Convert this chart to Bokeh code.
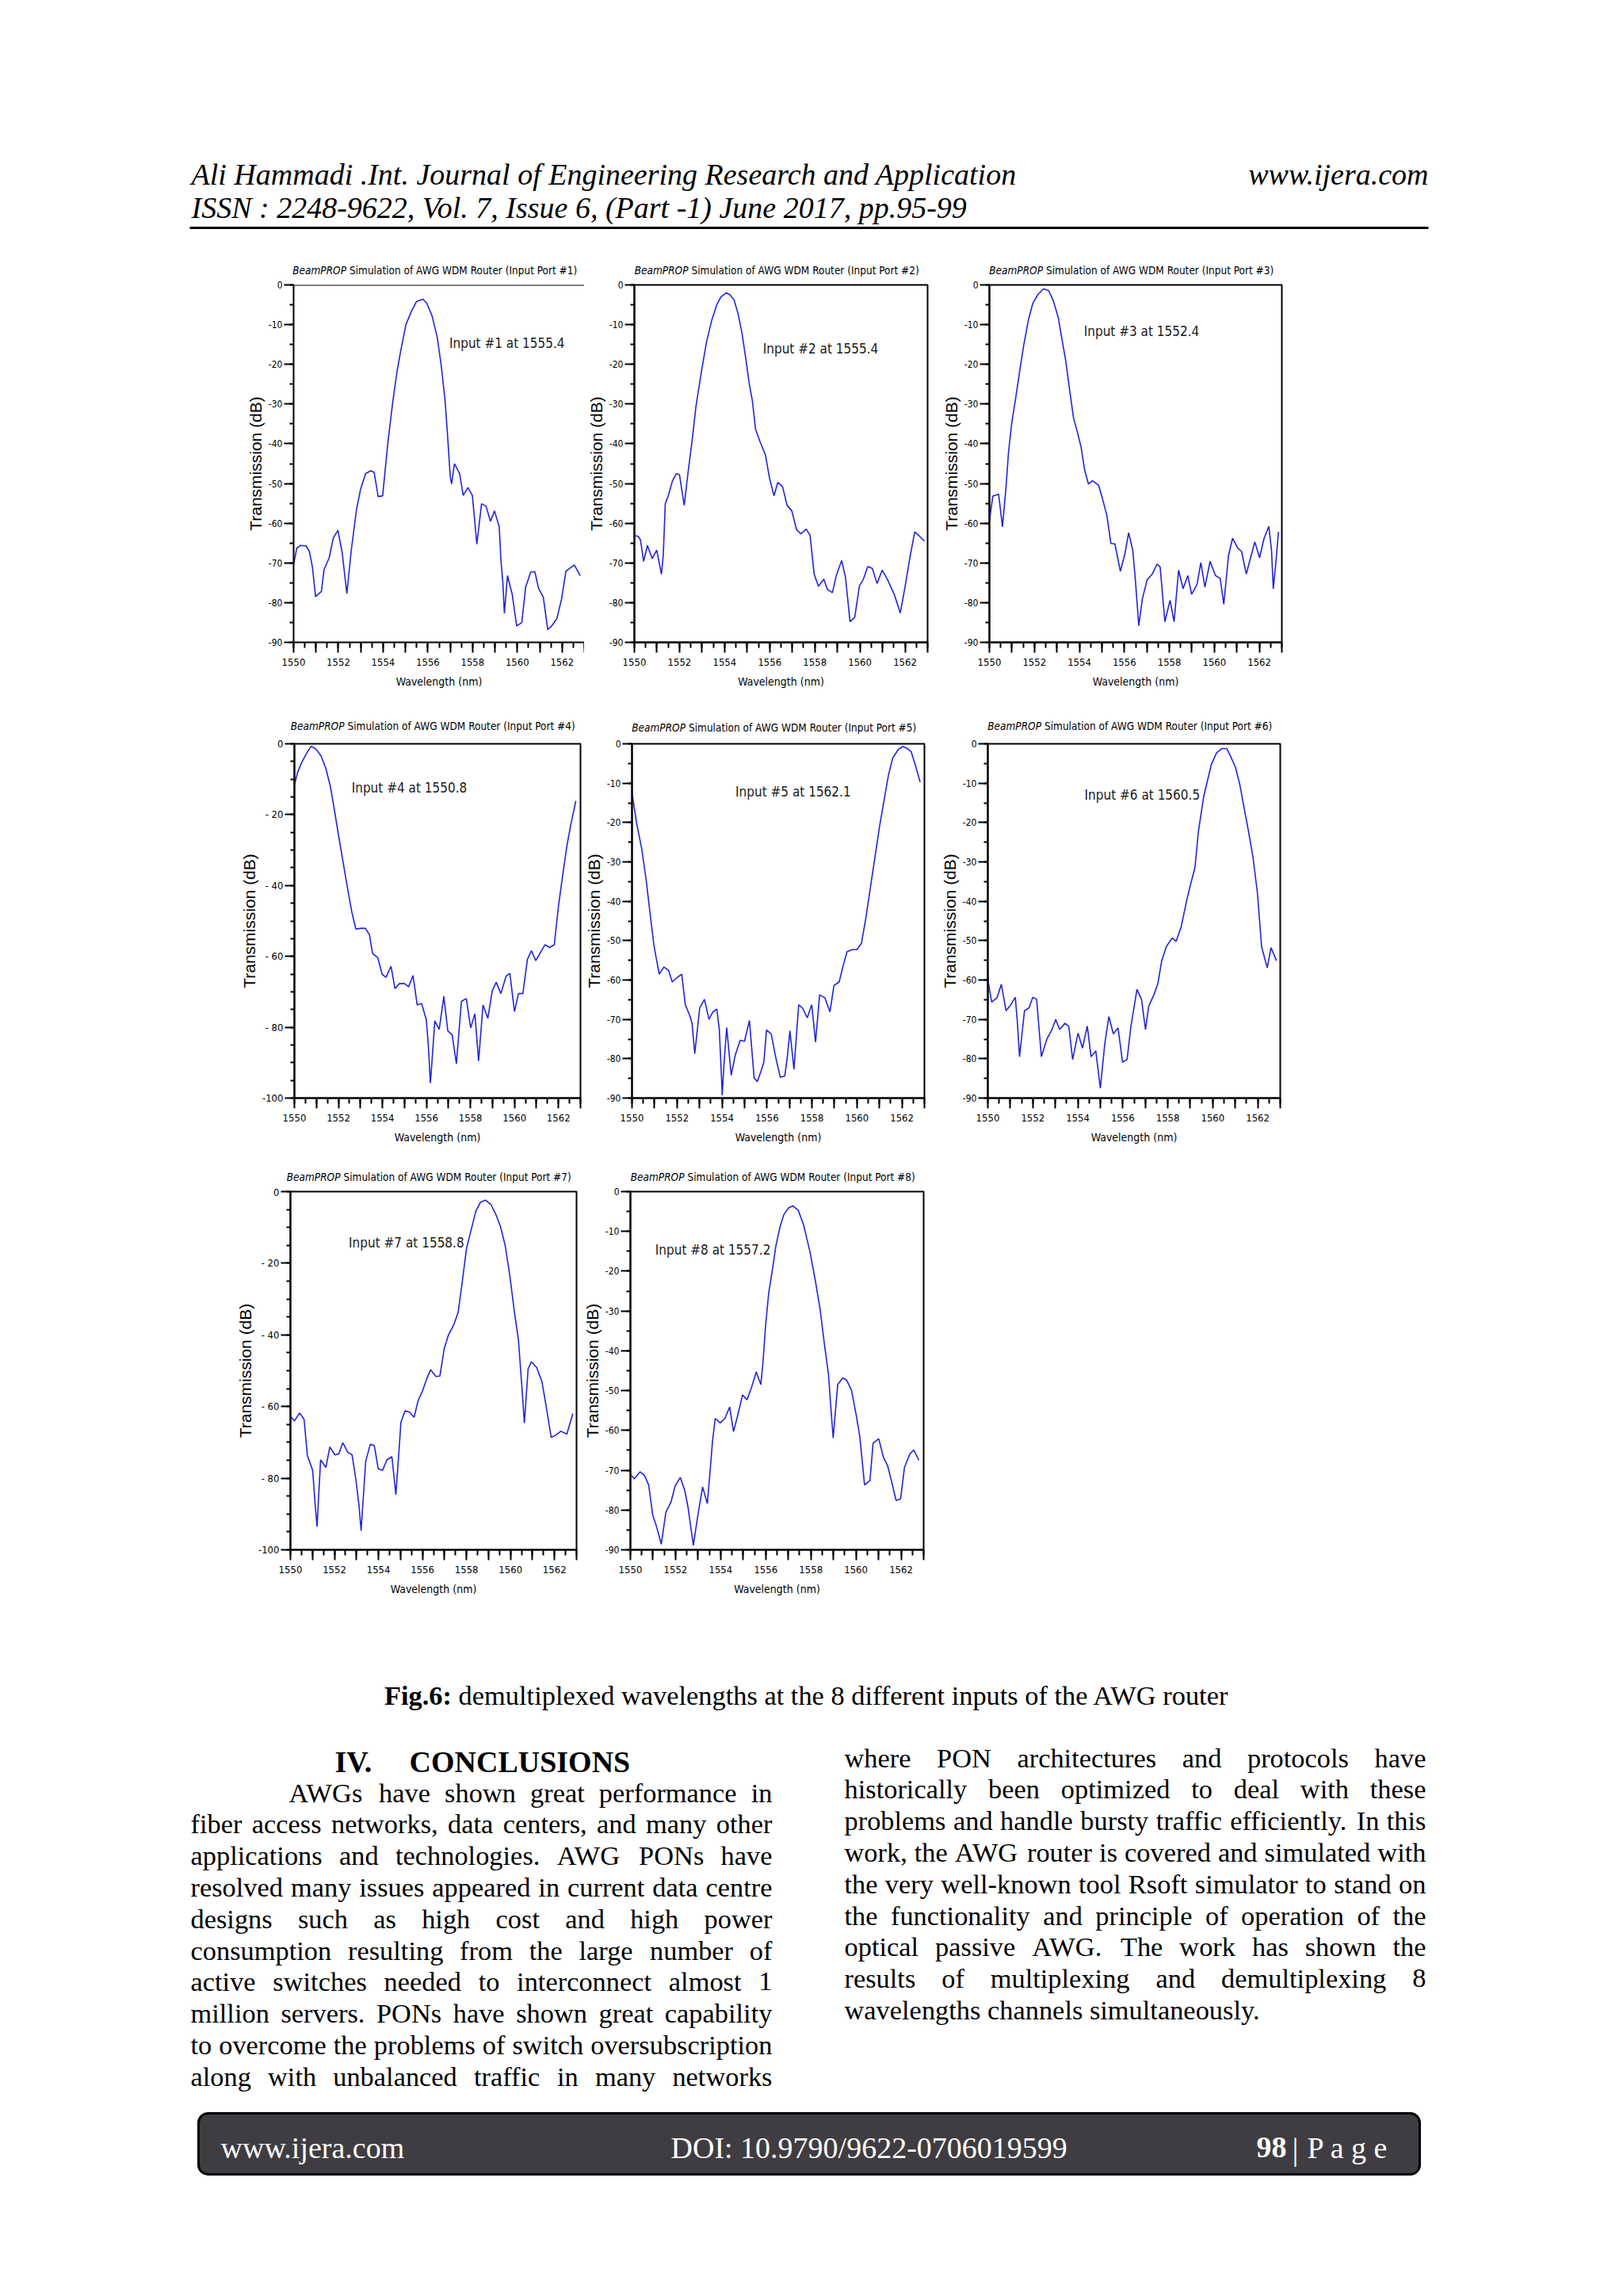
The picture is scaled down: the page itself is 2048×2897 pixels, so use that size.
from bokeh.plotting import figure
from bokeh.models import Range1d, FixedTicker, Spacer, Span
from bokeh.layouts import column, row
from bokeh.embed import file_html
from bokeh.resources import INLINE
from bokeh.core.properties import value

# ------------------------------------------------------------------ data
ports = [1, 2, 3, 4, 5, 6, 7, 8]
peak_labels = ["Input #1 at 1555.4", "Input #2 at 1555.4", "Input #3 at 1552.4",
               "Input #4 at 1550.8", "Input #5 at 1562.1", "Input #6 at 1560.5",
               "Input #7 at 1558.8", "Input #8 at 1557.2"]
y_min = [-90, -90, -90, -100, -90, -90, -100, -90]

x_ticks = [1550, 1551, 1552, 1553, 1554, 1555, 1556, 1557, 1558, 1559, 1560, 1561, 1562, 1563]
x_tick_labels = ["1550", "", "1552", "", "1554", "", "1556", "", "1558", "", "1560", "", "1562", ""]
y_ticks_90 = [-90, -80, -70, -60, -50, -40, -30, -20, -10, 0]
y_tick_labels_90 = ["-90", "-80", "-70", "-60", "-50", "-40", "-30", "-20", "-10", "0"]
y_ticks_100 = [-100, -80, -60, -40, -20, 0]
y_tick_labels_100 = ["-100", "- 80", "- 60", "- 40", "- 20", "0"]

wl1 = [1550.00,1550.14,1550.31,1550.55,1550.70,1550.84,1550.98,1551.07,1551.24,1551.36,1551.59,1551.77,1551.98,1552.17,1552.38,1552.58,1552.81,1552.99,1553.22,1553.45,1553.60,1553.78,1553.98,1554.21,1554.44,1554.62,1554.79,1555.02,1555.26,1555.49,1555.78,1555.95,1556.19,1556.42,1556.60,1556.77,1556.88,1557.00,1557.06,1557.19,1557.42,1557.58,1557.79,1557.99,1558.19,1558.40,1558.60,1558.80,1558.98,1559.19,1559.27,1559.35,1559.42,1559.56,1559.77,1559.97,1560.20,1560.37,1560.60,1560.78,1560.95,1561.16,1561.36,1561.53,1561.77,1561.98,1562.17,1562.35,1562.55,1562.81]
tr1 = [-70.4,-66.3,-65.6,-65.7,-67.0,-71.0,-78.5,-78.0,-77.2,-71.7,-68.7,-63.8,-61.8,-67.4,-77.7,-66.7,-56.6,-51.5,-47.5,-46.8,-47.2,-53.3,-53.1,-39.9,-29.1,-21.9,-16.5,-10.0,-6.7,-4.2,-3.6,-4.6,-7.8,-13.2,-20.4,-29.1,-37.8,-48.2,-50.1,-45.0,-47.5,-53.0,-51.0,-53.0,-65.3,-55.1,-55.7,-59.5,-56.9,-60.9,-69.6,-74.7,-82.7,-73.2,-77.9,-85.9,-85.0,-76.1,-72.3,-72.2,-76.4,-78.6,-86.8,-85.9,-84.0,-79.0,-72.1,-71.3,-70.5,-73.2]

wl2 = [1550.00,1550.17,1550.27,1550.41,1550.58,1550.79,1550.99,1551.20,1551.28,1551.37,1551.51,1551.69,1551.86,1552.00,1552.21,1552.38,1552.56,1552.73,1552.97,1553.20,1553.43,1553.66,1553.84,1554.07,1554.24,1554.42,1554.59,1554.77,1554.94,1555.09,1555.23,1555.37,1555.58,1555.81,1555.99,1556.19,1556.36,1556.57,1556.77,1556.98,1557.19,1557.38,1557.62,1557.79,1557.97,1558.16,1558.40,1558.55,1558.78,1558.95,1559.19,1559.36,1559.56,1559.77,1559.98,1560.14,1560.35,1560.55,1560.76,1560.99,1561.23,1561.52,1561.79,1562.01,1562.22,1562.43,1562.63,1562.86]
tr2 = [-63.1,-63.3,-64.2,-69.6,-65.6,-68.9,-66.8,-72.8,-68.1,-55.1,-53.0,-49.3,-47.5,-47.8,-55.5,-47.2,-39.2,-30.6,-21.9,-14.3,-8.9,-4.9,-3.0,-2.0,-2.5,-3.8,-7.1,-12.1,-18.6,-24.8,-29.1,-36.3,-39.6,-42.8,-48.6,-53.1,-49.7,-50.8,-55.5,-56.9,-61.6,-62.7,-61.5,-63.1,-72.8,-75.9,-74.1,-76.6,-77.5,-73.2,-69.4,-73.6,-84.8,-83.7,-75.7,-74.3,-70.9,-71.4,-75.2,-71.8,-74.3,-77.9,-82.6,-75.7,-68.5,-62.2,-63.2,-64.5]

wl3 = [1550.00,1550.15,1550.41,1550.58,1550.74,1550.85,1550.99,1551.17,1551.37,1551.52,1551.73,1551.93,1552.16,1552.40,1552.63,1552.83,1553.06,1553.21,1553.39,1553.56,1553.74,1553.91,1554.07,1554.23,1554.40,1554.58,1554.85,1555.02,1555.22,1555.40,1555.58,1555.82,1556.02,1556.19,1556.37,1556.48,1556.64,1556.80,1557.01,1557.24,1557.45,1557.59,1557.80,1558.03,1558.21,1558.41,1558.61,1558.82,1558.99,1559.23,1559.40,1559.58,1559.81,1560.05,1560.26,1560.42,1560.63,1560.81,1561.04,1561.21,1561.42,1561.60,1561.80,1562.01,1562.21,1562.42,1562.54,1562.62,1562.74,1562.85]
tr3 = [-59.5,-53.2,-52.7,-60.9,-50.8,-42.1,-34.9,-28.4,-20.8,-15.4,-8.9,-4.6,-2.4,-1.0,-1.4,-3.8,-8.2,-13.2,-19.0,-26.2,-33.5,-37.1,-40.7,-46.5,-50.1,-49.3,-50.4,-53.7,-58.0,-65.1,-65.2,-72.1,-67.8,-62.4,-66.7,-73.6,-85.8,-79.0,-74.3,-72.8,-70.3,-71.0,-84.8,-79.4,-84.8,-71.8,-76.5,-73.2,-77.9,-75.4,-69.9,-76.1,-69.6,-73.2,-73.9,-80.4,-68.1,-63.8,-66.3,-67.1,-72.8,-68.9,-64.7,-68.7,-63.8,-60.8,-66.7,-76.5,-69.6,-62.2]

wl4 = [1550.00,1550.14,1550.32,1550.56,1550.76,1550.97,1551.21,1551.43,1551.63,1551.81,1552.02,1552.22,1552.42,1552.61,1552.79,1552.99,1553.23,1553.41,1553.55,1553.79,1553.99,1554.16,1554.39,1554.57,1554.77,1555.01,1555.19,1555.39,1555.58,1555.78,1555.99,1556.08,1556.18,1556.29,1556.38,1556.58,1556.79,1556.97,1557.17,1557.36,1557.59,1557.81,1558.01,1558.20,1558.37,1558.57,1558.79,1558.99,1559.17,1559.38,1559.62,1559.79,1560.00,1560.18,1560.38,1560.59,1560.77,1560.97,1561.19,1561.39,1561.60,1561.81,1562.00,1562.20,1562.38,1562.56,1562.79]
tr4 = [-11.7,-8.2,-5.4,-2.6,-0.7,-1.4,-3.4,-7.0,-11.9,-18.4,-26.4,-33.7,-41.0,-47.5,-52.3,-52.1,-52.1,-53.9,-59.2,-60.4,-65.1,-65.9,-62.8,-69.1,-67.7,-67.7,-68.6,-65.4,-73.7,-73.3,-77.8,-84.6,-95.8,-86.3,-78.2,-80.6,-71.3,-81.0,-82.2,-90.3,-72.7,-71.9,-80.2,-76.2,-89.5,-73.7,-77.5,-69.7,-67.3,-70.5,-65.6,-64.8,-75.6,-70.5,-70.5,-60.8,-58.4,-61.2,-58.8,-56.7,-57.5,-56.7,-45.8,-36.7,-28.9,-22.8,-16.1]

wl5 = [1550.00,1550.20,1550.43,1550.63,1550.81,1550.98,1551.21,1551.42,1551.63,1551.79,1552.00,1552.21,1552.37,1552.58,1552.67,1552.79,1553.01,1553.22,1553.42,1553.60,1553.77,1553.88,1553.98,1554.01,1554.09,1554.21,1554.41,1554.59,1554.81,1555.00,1555.22,1555.43,1555.57,1555.74,1555.86,1555.98,1556.19,1556.38,1556.59,1556.79,1556.91,1557.02,1557.20,1557.41,1557.58,1557.79,1557.99,1558.16,1558.34,1558.57,1558.80,1558.98,1559.21,1559.38,1559.56,1559.79,1560.00,1560.20,1560.40,1560.60,1560.80,1561.01,1561.21,1561.40,1561.59,1561.83,1562.03,1562.21,1562.41,1562.60,1562.81]
tr5 = [-12.4,-20.0,-26.6,-34.6,-43.4,-51.4,-58.5,-56.7,-57.6,-60.5,-59.4,-58.5,-66.3,-69.2,-71.1,-78.7,-67.1,-64.9,-70.0,-68.1,-67.4,-72.5,-84.9,-89.3,-81.3,-72.1,-84.2,-79.1,-75.3,-75.6,-70.3,-84.9,-85.8,-83.1,-80.9,-72.7,-73.7,-79.4,-84.7,-84.4,-79.3,-72.9,-82.7,-66.3,-67.1,-69.6,-66.3,-75.8,-63.8,-64.5,-68.1,-61.4,-60.5,-56.5,-52.8,-52.3,-52.3,-50.7,-44.1,-36.4,-28.8,-20.8,-14.2,-8.0,-3.6,-1.5,-0.7,-1.1,-2.0,-5.5,-9.7]

wl6 = [1550.00,1550.17,1550.41,1550.60,1550.81,1551.01,1551.22,1551.31,1551.41,1551.63,1551.83,1552.00,1552.17,1552.38,1552.62,1552.85,1553.02,1553.19,1553.43,1553.60,1553.77,1554.01,1554.21,1554.42,1554.59,1554.80,1555.00,1555.20,1555.38,1555.58,1555.79,1555.99,1556.19,1556.36,1556.63,1556.83,1557.01,1557.15,1557.38,1557.56,1557.73,1557.94,1558.20,1558.37,1558.60,1558.84,1559.01,1559.21,1559.36,1559.59,1559.77,1559.94,1560.17,1560.41,1560.62,1560.81,1561.01,1561.20,1561.40,1561.59,1561.78,1561.98,1562.17,1562.42,1562.59,1562.83]
tr6 = [-59.8,-65.6,-64.5,-61.1,-67.8,-66.4,-64.4,-70.4,-79.5,-67.8,-67.1,-64.4,-64.9,-79.5,-75.1,-72.6,-70.0,-72.6,-71.0,-71.8,-80.2,-73.5,-77.3,-71.7,-79.5,-78.0,-87.5,-76.2,-69.3,-73.7,-72.2,-80.9,-80.2,-71.8,-62.4,-64.9,-72.6,-66.7,-63.8,-60.9,-55.1,-51.5,-49.3,-50.2,-46.4,-39.8,-35.8,-31.4,-22.3,-13.6,-9.2,-5.2,-2.3,-1.2,-1.2,-3.4,-6.0,-10.3,-16.5,-22.3,-28.5,-37.6,-51.5,-56.9,-51.8,-55.1]

wl7 = [1550.00,1550.18,1550.42,1550.62,1550.77,1551.01,1551.13,1551.21,1551.37,1551.61,1551.79,1552.02,1552.20,1552.38,1552.60,1552.80,1552.98,1553.12,1553.21,1553.42,1553.63,1553.81,1553.99,1554.19,1554.38,1554.61,1554.79,1554.94,1555.02,1555.21,1555.42,1555.62,1555.80,1556.01,1556.19,1556.37,1556.61,1556.79,1556.99,1557.17,1557.44,1557.62,1557.80,1558.00,1558.21,1558.43,1558.63,1558.87,1559.11,1559.35,1559.55,1559.76,1559.98,1560.18,1560.36,1560.50,1560.63,1560.80,1560.95,1561.19,1561.43,1561.61,1561.85,1562.05,1562.29,1562.56,1562.83]
tr7 = [-62.7,-64.0,-61.8,-63.6,-73.7,-77.8,-87.9,-93.5,-74.9,-77.0,-71.3,-73.5,-73.2,-70.1,-72.7,-73.5,-80.6,-87.9,-94.7,-75.3,-70.5,-70.9,-77.4,-77.8,-74.9,-74.0,-84.6,-71.7,-64.4,-61.2,-61.6,-63.0,-58.4,-55.5,-52.3,-49.7,-51.6,-51.5,-43.8,-40.2,-36.9,-33.7,-25.6,-15.9,-10.7,-5.4,-3.0,-2.4,-3.6,-6.6,-9.9,-15.1,-24.0,-33.7,-41.4,-53.1,-64.6,-49.5,-47.5,-49.1,-53.1,-59.6,-68.6,-68.0,-66.9,-67.7,-62.0]

wl8 = [1550.00,1550.17,1550.43,1550.62,1550.81,1550.99,1551.16,1551.37,1551.57,1551.80,1551.98,1552.21,1552.41,1552.56,1552.79,1552.99,1553.20,1553.41,1553.52,1553.64,1553.76,1553.98,1554.19,1554.40,1554.57,1554.74,1554.97,1555.17,1555.37,1555.58,1555.78,1555.87,1555.99,1556.13,1556.31,1556.45,1556.63,1556.80,1557.01,1557.21,1557.44,1557.67,1557.96,1558.20,1558.41,1558.60,1558.78,1558.90,1558.99,1559.19,1559.42,1559.59,1559.80,1560.00,1560.17,1560.38,1560.62,1560.76,1561.01,1561.22,1561.40,1561.57,1561.78,1561.98,1562.15,1562.38,1562.56,1562.79]
tr8 = [-71.0,-72.2,-70.4,-71.3,-73.7,-81.3,-84.2,-88.6,-80.6,-78.0,-74.0,-71.8,-75.1,-79.5,-88.9,-81.3,-74.2,-78.4,-71.1,-62.7,-57.0,-58.1,-57.0,-54.1,-60.3,-56.6,-51.1,-52.3,-49.2,-45.3,-48.5,-43.4,-33.9,-25.5,-19.1,-13.6,-8.9,-5.8,-4.1,-3.6,-4.7,-8.2,-15.1,-22.4,-29.6,-38.3,-45.8,-55.3,-61.9,-48.5,-46.8,-47.4,-49.9,-55.8,-61.6,-73.7,-72.6,-63.2,-62.1,-66.8,-68.8,-72.6,-77.6,-77.2,-69.3,-66.0,-64.9,-67.5]

wavelengths = [wl1, wl2, wl3, wl4, wl5, wl6, wl7, wl8]
transmissions = [tr1, tr2, tr3, tr4, tr5, tr6, tr7, tr8]

# page texts
header_line1 = "Ali Hammadi .Int. Journal of Engineering Research and Application"
header_line2 = "ISSN : 2248-9622, Vol. 7, Issue 6, (Part -1) June 2017, pp.95-99"
header_site = "www.ijera.com"
title_italic = "BeamPROP"
title_rest = "Simulation of AWG WDM Router (Input Port #%d)"
caption_bold = "Fig.6:"
caption_rest = "demultiplexed wavelengths at the 8 different inputs of the AWG router"
section_num = "IV."
section_title = "CONCLUSIONS"
left_col = [
    "AWGs have shown great performance in",
    "fiber access networks, data centers, and many other",
    "applications and technologies. AWG PONs have",
    "resolved many issues appeared in current data centre",
    "designs such as high cost and high power",
    "consumption resulting from the large number of",
    "active switches needed to interconnect almost 1",
    "million servers. PONs have shown great capability",
    "to overcome the problems of switch oversubscription",
    "along with unbalanced traffic in many networks",
]
right_col = [
    "where PON architectures and protocols have",
    "historically been optimized to deal with these",
    "problems and handle bursty traffic efficiently. In this",
    "work, the AWG router is covered and simulated with",
    "the very well-known tool Rsoft simulator to stand on",
    "the functionality and principle of operation of the",
    "optical passive AWG. The work has shown the",
    "results of multiplexing and demultiplexing 8",
    "wavelengths channels simultaneously.",
]
footer_site = "www.ijera.com"
footer_doi = "DOI: 10.9790/9622-0706019599"
footer_page = "98"
footer_page_word = "P a g e"

# ------------------------------------------------------------------ styles / geometry
NARROW = "DejaVu Sans Condensed, Liberation Sans Narrow, Liberation Sans"
SANS = "Liberation Sans"
SERIF = "Liberation Serif"
LINE_COLOR = "#2424d6"

# (frame_left, frame_top, frame_w, frame_h, border_left, border_right, border_top, border_bottom)
GEOM = [
    (375, 367, 370, 451, 60, 0, 7, 76),
    (805, 367, 373, 451, 60, 15, 7, 76),
    (1253, 367, 372, 451, 60, 20, 7, 76),
    (375, 941, 365, 452, 68, 2, 7, 71),
    (802, 946, 372, 451, 60, 17, 12, 67),
    (1251, 941, 372, 452, 60, 20, 7, 71),
    (370, 1511, 365, 452, 68, 5, 7, 137),
    (800, 1511, 373, 452, 60, 20, 7, 137),
]
TITLE_Y = [348.5, 348.5, 348.5, 923, 925, 923, 1492.5, 1492.5]
LABEL_POS = [(1556.96, -14.6), (1555.7, -16.0), (1554.2, -11.7), (1552.6, -12.4),
             (1554.6, -12.2), (1554.3, -12.9), (1552.65, -14.3), (1551.1, -14.7)]

# Times / Liberation Serif advance widths (1/1000 em)
TW = {' ': 250, '!': 333, '(': 333, ')': 333, ',': 250, '-': 333, '.': 250, '/': 278, ':': 278, ';': 278,
      'A': 722, 'B': 667, 'C': 667, 'D': 722, 'E': 611, 'F': 556, 'G': 722, 'H': 722, 'I': 333, 'J': 389,
      'K': 722, 'L': 611, 'M': 889, 'N': 722, 'O': 722, 'P': 556, 'Q': 722, 'R': 667, 'S': 556, 'T': 611,
      'U': 722, 'V': 722, 'W': 944, 'X': 722, 'Y': 722, 'Z': 611,
      'a': 444, 'b': 500, 'c': 444, 'd': 500, 'e': 444, 'f': 333, 'g': 500, 'h': 500, 'i': 278, 'j': 278,
      'k': 500, 'l': 278, 'm': 778, 'n': 500, 'o': 500, 'p': 500, 'q': 500, 'r': 333, 's': 389, 't': 278,
      'u': 500, 'v': 500, 'w': 722, 'x': 500, 'y': 500, 'z': 444}
TW_BOLD = {'F': 611, 'i': 278, 'g': 500, '.': 250, '6': 500, ':': 333}


def text_width(s, size, table=TW):
    return sum(table.get(c, 500) for c in s) / 1000.0 * size


# ------------------------------------------------------------------ plots
def make_plot(k, right_spine=True):
    wl, tr, ymin = wavelengths[k], transmissions[k], y_min[k]
    fl, ft, fw, fh, lb, rb, tb, bb = GEOM[k]
    p = figure(width=lb + fw + rb, height=tb + fh + bb,
               x_range=Range1d(1550, 1563), y_range=Range1d(ymin, 0),
               output_backend="svg", toolbar_location=None,
               min_border_left=lb, min_border_right=rb, min_border_top=tb, min_border_bottom=bb)
    p.grid.visible = False
    p.background_fill_color = "white"
    p.border_fill_color = "white"
    if right_spine:
        p.outline_line_color = "black"
        p.outline_line_width = 2
    else:
        p.outline_line_color = None
        p.add_layout(Span(location=0, dimension="width", line_color="black", line_width=2))

    p.xaxis.ticker = FixedTicker(ticks=x_ticks, minor_ticks=[x_ticks[0] + 0.5 * i for i in range(27)])
    p.xaxis.major_label_overrides = dict(zip(x_ticks, x_tick_labels))
    if ymin == -90:
        yt, yl, ysize = y_ticks_90, y_tick_labels_90, "12px"
    else:
        yt, yl, ysize = y_ticks_100, y_tick_labels_100, "13px"
    p.yaxis.ticker = FixedTicker(ticks=yt, minor_ticks=list(range(ymin, 1, 5)))
    p.yaxis.major_label_overrides = dict(zip(yt, yl))

    for ax in (p.xaxis[0], p.yaxis[0]):
        ax.axis_line_width = 2
        ax.major_tick_line_width = 2
        ax.minor_tick_line_width = 2
        ax.major_tick_in = 0
        ax.minor_tick_in = 0
        ax.major_label_text_font = NARROW
        ax.major_label_text_color = "black"
        ax.axis_label_text_font_style = "normal"
        ax.axis_label_text_color = "black"
    p.xaxis.major_label_text_font_size = "13px"
    p.yaxis.major_label_text_font_size = ysize
    p.xaxis.major_tick_out = 13
    p.xaxis.minor_tick_out = 7
    p.yaxis.major_tick_out = 12
    p.yaxis.minor_tick_out = 5
    p.xaxis.major_label_standoff = 7
    p.yaxis.major_label_standoff = 2
    p.xaxis.axis_label = "Wavelength (nm)"
    p.xaxis.axis_label_text_font = NARROW
    p.xaxis.axis_label_text_font_size = "14px"
    p.xaxis.axis_label_standoff = 9
    p.yaxis.axis_label = "Transmission (dB)"
    p.yaxis.axis_label_text_font = SANS
    p.yaxis.axis_label_text_font_size = "21px"
    p.yaxis.axis_label_standoff = 2

    p.line(wl, tr, line_color=LINE_COLOR, line_width=1.6)

    lx, ly = LABEL_POS[k]
    p.text(x=[lx], y=[ly], text=[peak_labels[k]], text_font=value(NARROW),
           text_font_size="17px", text_baseline="alphabetic", text_color="#1a1a1a")
    return p


plots = [make_plot(k, right_spine=(k != 0)) for k in range(8)]


# ------------------------------------------------------------------ page-level text figures
def page_fig(y0, y1):
    """A figure whose data coordinates equal the page's pixel coordinates."""
    p = figure(width=2032, height=y1 - y0, x_range=Range1d(8, 2040), y_range=Range1d(y1, y0),
               output_backend="svg", toolbar_location=None, x_axis_type=None, y_axis_type=None,
               min_border=0, title=None)
    p.outline_line_color = None
    p.background_fill_color = "white"
    p.border_fill_color = "white"
    return p


def put(p, xs, ys, texts, size, style="normal", align="left", color="black", font=SERIF):
    p.text(x=xs, y=ys, text=texts, text_font=value(font), text_font_size=size,
           text_font_style=style, text_align=align, text_baseline="alphabetic", text_color=color)


def add_titles(p, ks):
    for k in ks:
        fl, fw = GEOM[k][0], GEOM[k][2]
        cx = fl + fw / 2.0
        split = cx - 115.5
        put(p, [split], [TITLE_Y[k]], [title_italic], "13.5px", style="italic", align="right", font=NARROW)
        put(p, [split + 4], [TITLE_Y[k]], [title_rest % ports[k]], "13.5px", font=NARROW)


def justified(p, line, x0, x1, y, size_px, justify=True):
    words = line.split(" ")
    if not justify or len(words) < 2:
        put(p, [x0], [y], [line], "%.1fpx" % size_px)
        return
    widths = [text_width(w, size_px) for w in words]
    gap = (x1 - x0 - sum(widths)) / (len(words) - 1)
    xs, x = [], x0
    for wd in widths:
        xs.append(x)
        x += wd + gap
    put(p, xs, [y] * len(words), words, "%.1fpx" % size_px)


# header + first-row titles
header = page_fig(8, 360)
put(header, [249], [227], [header_line1], "38px", style="italic")
put(header, [249], [269], [header_line2], "38px", style="italic")
put(header, [1810], [227], [header_site], "38px", style="italic", align="right")
header.line(x=[247, 1810], y=[295, 295], line_color="black", line_width=3)
add_titles(header, [0, 1, 2])

strip2 = page_fig(894, 934)
add_titles(strip2, [3, 4, 5])
strip3 = page_fig(1464, 1504)
add_titles(strip3, [6, 7])

body = page_fig(2100, 2880)
BODY = 34.4
DY = -7
bold_w = text_width(caption_bold, BODY, TW_BOLD)
space_w = text_width(" ", BODY)
cap_w = bold_w + space_w + text_width(caption_rest, BODY)
cap_x = 1027.5 - cap_w / 2
put(body, [cap_x], [2153 + DY], [caption_bold], "34.4px", style="bold")
put(body, [cap_x + bold_w + space_w], [2153 + DY], [caption_rest], "34.4px")
put(body, [430], [2237 + DY], [section_num], "38px", style="bold")
put(body, [524], [2237 + DY], [section_title], "38px", style="bold")

LINE_H = 39.8
for i, line in enumerate(left_col):
    x0 = 372 if i == 0 else 248
    justified(body, line, x0, 982, 2276 + DY + i * LINE_H, BODY)
for i, line in enumerate(right_col):
    justified(body, line, 1073, 1807, 2232 + DY + i * LINE_H, BODY, justify=(i < len(right_col) - 1))

body.quad(left=[258], right=[1799], top=[2674], bottom=[2751], fill_color="#3f3d41",
          line_color="black", line_width=3, border_radius=12)
put(body, [286], [2717], [footer_site], "38px", color="white")
put(body, [854], [2717], [footer_doi], "38px", color="white")
put(body, [1593], [2717], [footer_page], "38px", style="bold", color="white")
put(body, [1642], [2719], ["|"], "40px", align="center", color="white")
put(body, [1657], [2717], [footer_page_word], "38px", color="white")

# ------------------------------------------------------------------ layout
row1 = row(Spacer(width=307, height=10), plots[0], plots[1], plots[2])
row2 = row(Spacer(width=299, height=10), plots[3], plots[4], plots[5])
row3 = row(Spacer(width=294, height=10), plots[6], plots[7])
page = column(header, row1, strip2, row2, strip3, row3, body)

open("out.html", "w").write(file_html(page, INLINE))
